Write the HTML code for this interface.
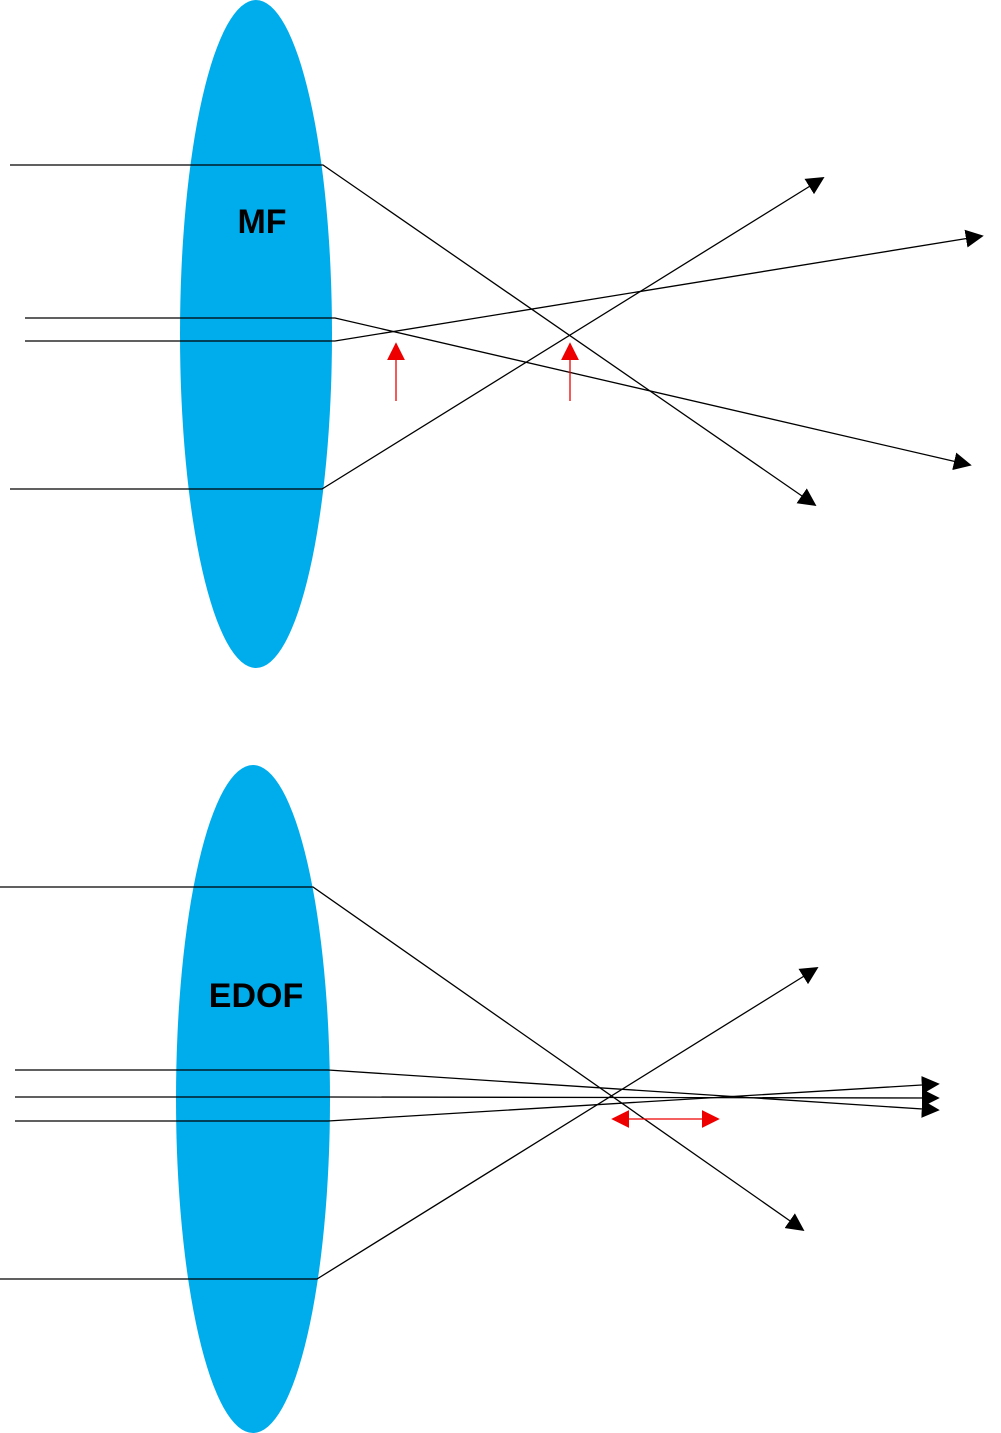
<!DOCTYPE html>
<html><head><style>html,body{margin:0;padding:0;background:#fff}svg{display:block}</style></head>
<body>
<svg width="1001" height="1433" viewBox="0 0 1001 1433" xmlns="http://www.w3.org/2000/svg">
<defs>
<marker id="a" viewBox="0 0 10 10" refX="9" refY="5" markerWidth="18" markerHeight="18" markerUnits="userSpaceOnUse" orient="auto"><path d="M0,0L10,5L0,10z" fill="#000"/></marker>
<marker id="r" viewBox="0 0 10 10" refX="9" refY="5" markerWidth="18" markerHeight="18" markerUnits="userSpaceOnUse" orient="auto-start-reverse"><path d="M0,0L10,5L0,10z" fill="#e00"/></marker>
</defs>
<ellipse cx="256" cy="334" rx="76" ry="334" fill="#00adec"/>
<ellipse cx="253" cy="1099" rx="77" ry="334" fill="#00adec"/>
<text x="262" y="233" font-family="Liberation Sans, sans-serif" font-weight="bold" font-size="34" text-anchor="middle">MF</text>
<text x="256" y="1007" font-family="Liberation Sans, sans-serif" font-weight="bold" font-size="34" text-anchor="middle">EDOF</text>
<g stroke="#000" stroke-width="1.3" fill="none">
<polyline points="10,165 323,165 815,505" marker-end="url(#a)"/>
<polyline points="25,318 335,318 970,465" marker-end="url(#a)"/>
<polyline points="25,341 335,341 982,236" marker-end="url(#a)"/>
<polyline points="10,489 322,489 823,178" marker-end="url(#a)"/>
<polyline points="0,887 313,887 803,1230" marker-end="url(#a)"/>
<polyline points="15,1070 328,1070 938,1110" marker-end="url(#a)"/>
<polyline points="15,1097 328,1097 938,1098" marker-end="url(#a)"/>
<polyline points="15,1121 328,1121 938,1084" marker-end="url(#a)"/>
<polyline points="0,1279 317,1279 817,968" marker-end="url(#a)"/>
</g>
<g stroke="#e00" stroke-width="1.3">
<line x1="396" y1="401" x2="396" y2="344" marker-end="url(#r)"/>
<line x1="570" y1="401" x2="570" y2="344" marker-end="url(#r)"/>
<line x1="613" y1="1119" x2="718" y2="1119" marker-end="url(#r)" marker-start="url(#r)"/>
</g>
</svg>
</body></html>
